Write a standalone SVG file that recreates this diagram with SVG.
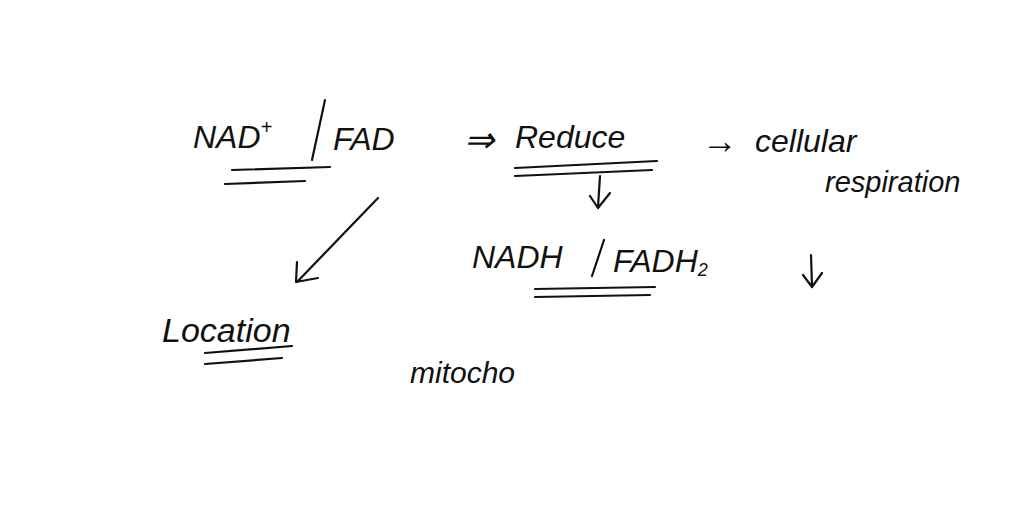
<svg xmlns="http://www.w3.org/2000/svg" width="1024" height="512" viewBox="0 0 1024 512">
<style>
text{font-family:"Liberation Sans",Arial,sans-serif;fill:#111;font-style:italic}
.l{stroke:#111;stroke-width:2.2;fill:none;stroke-linecap:round;stroke-linejoin:round}
</style>
<rect width="1024" height="512" fill="#fff"/>
<text x="193" y="148" font-size="32">NAD<tspan font-size="20" dy="-14">+</tspan></text>
<path class="l" d="M325 100 L312 160"/>
<text x="333" y="150" font-size="32">FAD</text>
<path class="l" d="M232 170 L330 167 M225 184 L305 181"/>
<text x="464" y="152" font-size="36">⇒</text>
<text x="515" y="148" font-size="32">Reduce</text>
<path class="l" d="M515 168 L657 161 M515 176 L652 170"/>
<path class="l" d="M600 176 L598 207 M590 196 L598 208 L610 193"/>
<text x="702" y="153" font-size="36">→</text>
<text x="755" y="152" font-size="32">cellular</text>
<text x="825" y="192" font-size="29">respiration</text>
<path class="l" d="M378 198 L297 282 M297 262 L296 282 L318 278"/>
<text x="472" y="268" font-size="32">NADH</text>
<path class="l" d="M604 240 L592 276"/>
<text x="613" y="272" font-size="32">FADH<tspan font-size="18" dy="4">2</tspan></text>
<path class="l" d="M535 289 L655 287 M535 297 L650 295"/>
<path class="l" d="M811 255 L812 286 M803 275 L812 287 L822 273"/>
<text x="162" y="342" font-size="34">Location</text>
<path class="l" d="M205 353 L292 346 M205 364 L282 358"/>
<text x="410" y="383" font-size="30">mitocho</text>
</svg>
